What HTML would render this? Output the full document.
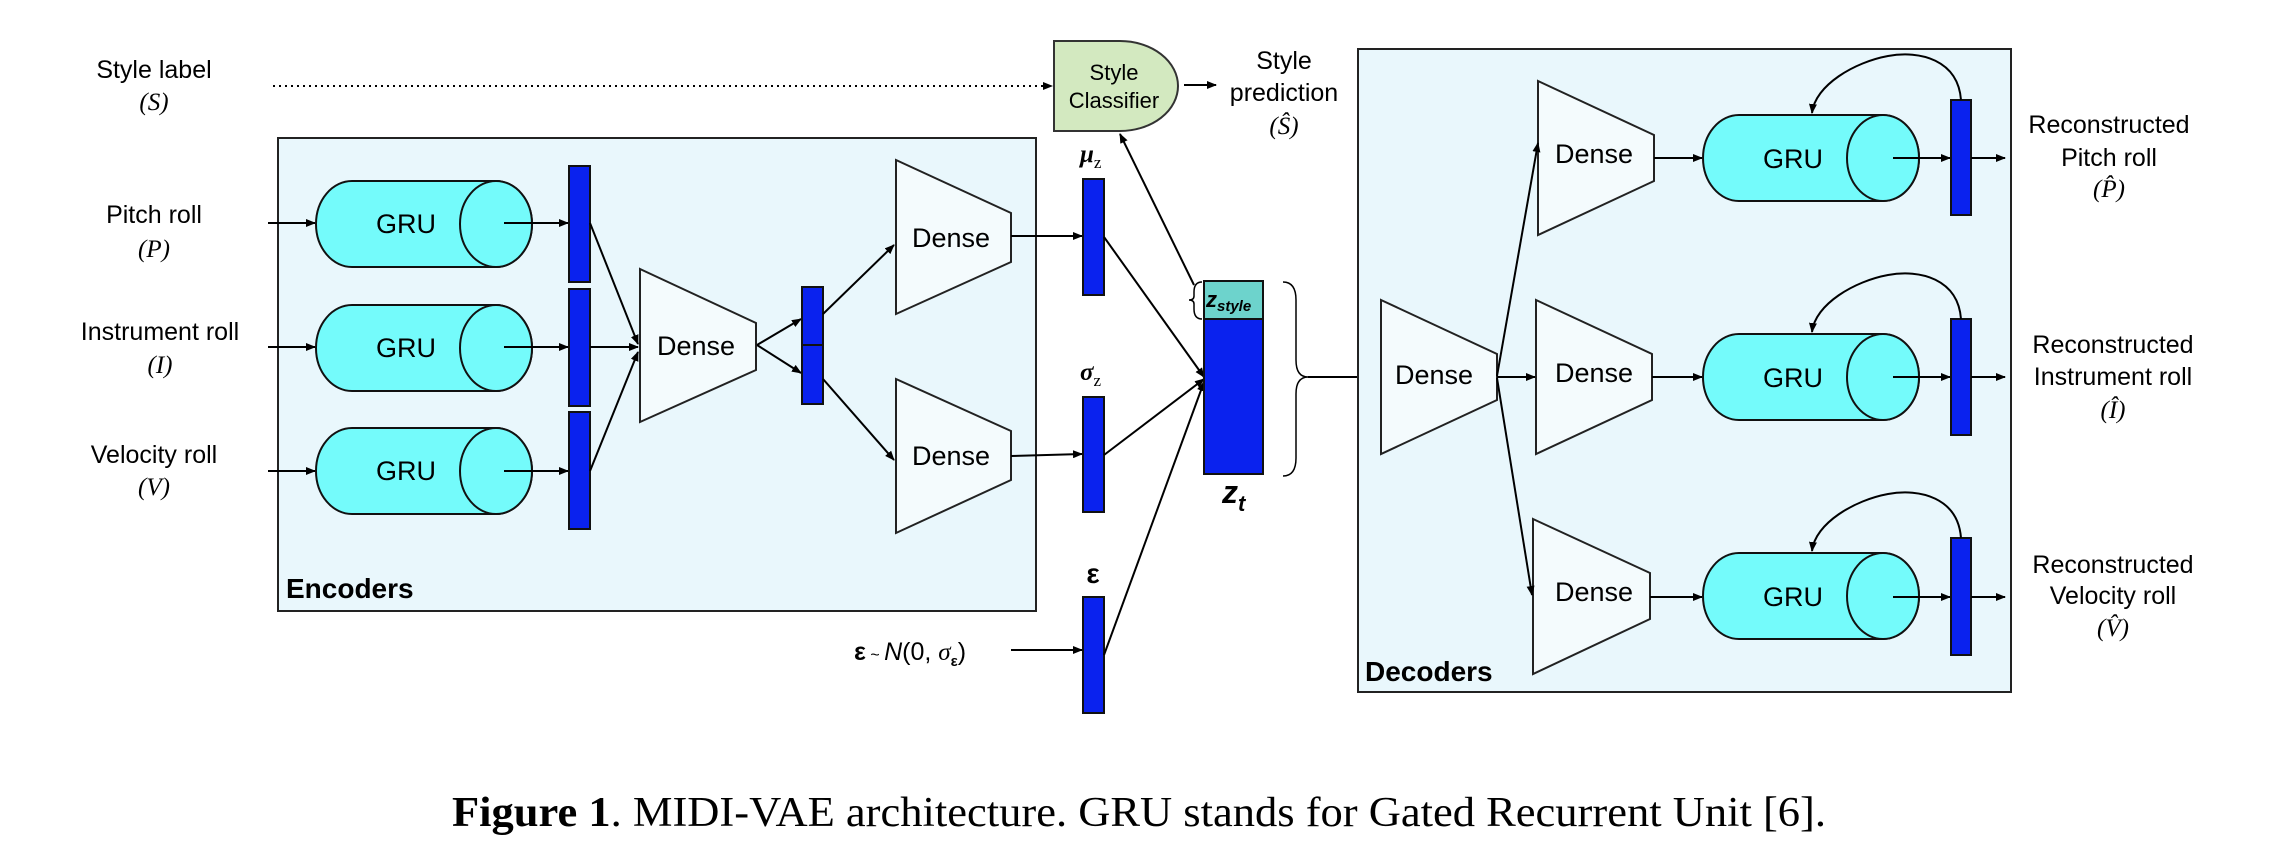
<!DOCTYPE html>
<html><head><meta charset="utf-8"><style>
html,body{margin:0;padding:0;background:#fff;}
svg{display:block;}
text{font-family:"Liberation Sans",sans-serif;fill:#000;}
.s{font-family:"Liberation Serif",serif;font-style:italic;}
.cap{font-family:"Liberation Serif",serif;}
</style></head><body>
<svg width="2278" height="844" viewBox="0 0 2278 844" xmlns="http://www.w3.org/2000/svg">
<defs>
<marker id="a" markerWidth="10" markerHeight="8" refX="9" refY="4" orient="auto" markerUnits="userSpaceOnUse">
<path d="M0,0 L10,4 L0,8 Z" fill="#000"/></marker>
</defs>

<!-- Style label -->
<text x="154" y="78" font-size="25" text-anchor="middle">Style label</text>
<text x="154" y="110" font-size="25" text-anchor="middle" class="s">(S)</text>
<line x1="273" y1="86" x2="1052" y2="86" stroke="#000" stroke-width="2" stroke-dasharray="2,4" marker-end="url(#a)"/>

<!-- Style classifier -->
<path d="M1054 41 L1120 41 A58 45 0 0 1 1120 131 L1054 131 Z" fill="#d3e9c0" stroke="#333" stroke-width="2"/>
<text x="1114" y="80" font-size="22" text-anchor="middle">Style</text>
<text x="1114" y="108" font-size="22" text-anchor="middle">Classifier</text>
<line x1="1184" y1="85" x2="1216" y2="85" stroke="#000" stroke-width="2" marker-end="url(#a)"/>
<text x="1284" y="69" font-size="25" text-anchor="middle">Style</text>
<text x="1284" y="101" font-size="25" text-anchor="middle">prediction</text>
<text x="1284" y="134" font-size="25" text-anchor="middle" class="s">(Ŝ)</text>

<!-- Encoders box -->
<rect x="278" y="138" width="758" height="473" fill="#e9f7fc" stroke="#222" stroke-width="2"/>
<text x="286" y="598" font-size="28" font-weight="bold">Encoders</text>

<!-- input labels -->
<text x="154" y="223" font-size="25" text-anchor="middle">Pitch roll</text>
<text x="154" y="257" font-size="25" text-anchor="middle" class="s">(P)</text>
<text x="160" y="340" font-size="25" text-anchor="middle">Instrument roll</text>
<text x="160" y="373" font-size="25" text-anchor="middle" class="s">(I)</text>
<text x="154" y="463" font-size="25" text-anchor="middle">Velocity roll</text>
<text x="154" y="495" font-size="25" text-anchor="middle" class="s">(V)</text>

<g stroke="#000" stroke-width="2" fill="none">
<line x1="268" y1="223" x2="315" y2="223" marker-end="url(#a)"/>
<line x1="268" y1="347" x2="315" y2="347" marker-end="url(#a)"/>
<line x1="268" y1="471" x2="315" y2="471" marker-end="url(#a)"/>
</g>

<!-- encoder GRUs -->
<g stroke="#111" stroke-width="2">
<path d="M352 181 L496 181 A36 43 0 0 1 496 267 L352 267 A36 43 0 0 1 352 181 Z" fill="#74fbfb"/>
<ellipse cx="496" cy="224" rx="36" ry="43" fill="#74fbfb"/>
<path d="M352 305 L496 305 A36 43 0 0 1 496 391 L352 391 A36 43 0 0 1 352 305 Z" fill="#74fbfb"/>
<ellipse cx="496" cy="348" rx="36" ry="43" fill="#74fbfb"/>
<path d="M352 428 L496 428 A36 43 0 0 1 496 514 L352 514 A36 43 0 0 1 352 428 Z" fill="#74fbfb"/>
<ellipse cx="496" cy="471" rx="36" ry="43" fill="#74fbfb"/>
</g>
<text x="406" y="233" font-size="27" text-anchor="middle">GRU</text>
<text x="406" y="357" font-size="27" text-anchor="middle">GRU</text>
<text x="406" y="480" font-size="27" text-anchor="middle">GRU</text>
<g stroke="#000" stroke-width="2">
<line x1="504" y1="223" x2="568" y2="223" marker-end="url(#a)"/>
<line x1="504" y1="347" x2="568" y2="347" marker-end="url(#a)"/>
<line x1="504" y1="471" x2="568" y2="471" marker-end="url(#a)"/>
</g>
<g fill="#0a22ee" stroke="#111" stroke-width="2">
<rect x="569" y="166" width="21" height="116"/>
<rect x="569" y="289" width="21" height="117"/>
<rect x="569" y="412" width="21" height="117"/>
</g>
<g stroke="#000" stroke-width="2">
<line x1="590" y1="223" x2="638" y2="344" marker-end="url(#a)"/>
<line x1="590" y1="347" x2="638" y2="347" marker-end="url(#a)"/>
<line x1="590" y1="471" x2="638" y2="352" marker-end="url(#a)"/>
</g>

<!-- Dense shapes -->
<g stroke="#222" stroke-width="2">
<path d="M640 269 L756 323 L756 370 L640 422 Z" fill="#f4fbfd"/>
<path d="M896 160 L1011 213 L1011 262 L896 314 Z" fill="#f4fbfd"/>
<path d="M896 379 L1011 431 L1011 480 L896 533 Z" fill="#f4fbfd"/>
</g>
<text x="696" y="355" font-size="27" text-anchor="middle">Dense</text>
<text x="951" y="247" font-size="27" text-anchor="middle">Dense</text>
<text x="951" y="465" font-size="27" text-anchor="middle">Dense</text>

<g stroke="#000" stroke-width="2">
<line x1="757" y1="345" x2="801" y2="319" marker-end="url(#a)"/>
<line x1="757" y1="345" x2="801" y2="373" marker-end="url(#a)"/>
</g>
<rect x="802" y="287" width="21" height="117" fill="#0a22ee" stroke="#111" stroke-width="2"/>
<line x1="802" y1="345" x2="823" y2="345" stroke="#111" stroke-width="2"/>
<g stroke="#000" stroke-width="2">
<line x1="823" y1="314" x2="894" y2="245" marker-end="url(#a)"/>
<line x1="823" y1="379" x2="894" y2="460" marker-end="url(#a)"/>
<line x1="1011" y1="236" x2="1082" y2="236" marker-end="url(#a)"/>
<line x1="1011" y1="456" x2="1082" y2="454" marker-end="url(#a)"/>
</g>

<!-- mu sigma eps bars -->
<g fill="#0a22ee" stroke="#111" stroke-width="2">
<rect x="1083" y="179" width="21" height="116"/>
<rect x="1083" y="397" width="21" height="115"/>
<rect x="1083" y="597" width="21" height="116"/>
</g>
<text x="1080" y="162" font-size="25" font-weight="bold" class="s">μ<tspan font-size="17" font-weight="normal" font-style="normal" dy="6">z</tspan></text>
<text x="1080" y="380" font-size="25" font-weight="bold" class="s">σ<tspan font-size="17" font-weight="normal" font-style="normal" dy="6">z</tspan></text>
<text x="1093" y="583" font-size="28" font-weight="bold" text-anchor="middle">ε</text>
<text x="854" y="660" font-size="25"><tspan font-weight="bold">ε</tspan><tspan font-size="16"> ~ </tspan><tspan font-style="italic">N</tspan>(0, <tspan class="s">σ</tspan><tspan font-size="15" font-weight="bold" dy="6">ε</tspan><tspan dy="-6">)</tspan></text>
<line x1="1011" y1="650" x2="1082" y2="650" stroke="#000" stroke-width="2" marker-end="url(#a)"/>

<g stroke="#000" stroke-width="2">
<line x1="1104" y1="237" x2="1204" y2="377" marker-end="url(#a)"/>
<line x1="1104" y1="455" x2="1204" y2="379" marker-end="url(#a)"/>
<line x1="1104" y1="655" x2="1204" y2="382" marker-end="url(#a)"/>
<line x1="1194" y1="285" x2="1120" y2="134" marker-end="url(#a)"/>
</g>

<!-- z_t -->
<rect x="1204" y="281" width="59" height="193" fill="#0a22ee" stroke="#111" stroke-width="2"/>
<rect x="1204" y="281" width="59" height="38" fill="#6dd3cc" stroke="#111" stroke-width="2"/>
<text x="1206" y="307" font-size="22" font-weight="bold" font-style="italic">z<tspan font-size="15" dy="4">style</tspan></text>
<text x="1222" y="503" font-size="32" font-weight="bold" font-style="italic">z<tspan font-size="22" dy="8">t</tspan></text>
<path d="M1202 282 Q1194 282 1194 292 L1194 296 Q1194 300 1189 300 Q1194 300 1194 304 L1194 309 Q1194 319 1202 319" fill="none" stroke="#000" stroke-width="1.5"/>
<path d="M1283 282 Q1296 282 1296 300 L1296 360 Q1296 377 1308 377 Q1296 377 1296 394 L1296 458 Q1296 476 1283 476" fill="none" stroke="#000" stroke-width="1.5"/>
<line x1="1308" y1="377" x2="1380" y2="377" stroke="#000" stroke-width="2" marker-end="url(#a)"/>

<!-- Decoders box -->
<rect x="1358" y="49" width="653" height="643" fill="#e9f7fc" stroke="#222" stroke-width="2"/>
<text x="1365" y="681" font-size="28" font-weight="bold">Decoders</text>

<g stroke="#222" stroke-width="2">
<path d="M1381 300 L1497 354 L1497 400 L1381 454 Z" fill="#f4fbfd"/>
<path d="M1538 81 L1654 135 L1654 181 L1538 235 Z" fill="#f4fbfd"/>
<path d="M1536 300 L1652 354 L1652 400 L1536 454 Z" fill="#f4fbfd"/>
<path d="M1533 519 L1650 573 L1650 619 L1533 674 Z" fill="#f4fbfd"/>
</g>
<text x="1434" y="384" font-size="27" text-anchor="middle">Dense</text>
<text x="1594" y="163" font-size="27" text-anchor="middle">Dense</text>
<text x="1594" y="382" font-size="27" text-anchor="middle">Dense</text>
<text x="1594" y="601" font-size="27" text-anchor="middle">Dense</text>
<g stroke="#000" stroke-width="2">
<line x1="1497" y1="376" x2="1538" y2="143" marker-end="url(#a)"/>
<line x1="1497" y1="377" x2="1535" y2="377" marker-end="url(#a)"/>
<line x1="1497" y1="378" x2="1532" y2="595" marker-end="url(#a)"/>
<line x1="1654" y1="158" x2="1702" y2="158" marker-end="url(#a)"/>
<line x1="1652" y1="377" x2="1702" y2="377" marker-end="url(#a)"/>
<line x1="1650" y1="597" x2="1702" y2="597" marker-end="url(#a)"/>
</g>

<g stroke="#111" stroke-width="2">
<path d="M1739 115 L1883 115 A36 43 0 0 1 1883 201 L1739 201 A36 43 0 0 1 1739 115 Z" fill="#74fbfb"/>
<ellipse cx="1883" cy="158" rx="36" ry="43" fill="#74fbfb"/>
<path d="M1739 334 L1883 334 A36 43 0 0 1 1883 420 L1739 420 A36 43 0 0 1 1739 334 Z" fill="#74fbfb"/>
<ellipse cx="1883" cy="377" rx="36" ry="43" fill="#74fbfb"/>
<path d="M1739 553 L1883 553 A36 43 0 0 1 1883 639 L1739 639 A36 43 0 0 1 1739 553 Z" fill="#74fbfb"/>
<ellipse cx="1883" cy="596" rx="36" ry="43" fill="#74fbfb"/>
</g>
<text x="1793" y="168" font-size="27" text-anchor="middle">GRU</text>
<text x="1793" y="387" font-size="27" text-anchor="middle">GRU</text>
<text x="1793" y="606" font-size="27" text-anchor="middle">GRU</text>
<g stroke="#000" stroke-width="2">
<line x1="1893" y1="158" x2="1950" y2="158" marker-end="url(#a)"/>
<line x1="1893" y1="377" x2="1950" y2="377" marker-end="url(#a)"/>
<line x1="1893" y1="597" x2="1950" y2="597" marker-end="url(#a)"/>
</g>
<g fill="#0a22ee" stroke="#111" stroke-width="2">
<rect x="1951" y="100" width="20" height="115"/>
<rect x="1951" y="319" width="20" height="116"/>
<rect x="1951" y="538" width="20" height="117"/>
</g>
<g stroke="#000" stroke-width="2" fill="none">
<path d="M1961 100 C1958 60 1920 50 1888 56 C1855 62 1815 85 1812 113" marker-end="url(#a)"/>
<path d="M1961 319 C1958 279 1920 269 1888 275 C1855 281 1815 304 1812 332" marker-end="url(#a)"/>
<path d="M1961 538 C1958 498 1920 488 1888 494 C1855 500 1815 523 1812 551" marker-end="url(#a)"/>
<line x1="1971" y1="158" x2="2005" y2="158" marker-end="url(#a)"/>
<line x1="1971" y1="377" x2="2005" y2="377" marker-end="url(#a)"/>
<line x1="1971" y1="597" x2="2005" y2="597" marker-end="url(#a)"/>
</g>

<text x="2109" y="133" font-size="25" text-anchor="middle">Reconstructed</text>
<text x="2109" y="166" font-size="25" text-anchor="middle">Pitch roll</text>
<text x="2109" y="197" font-size="25" text-anchor="middle" class="s">(P̂)</text>
<text x="2113" y="353" font-size="25" text-anchor="middle">Reconstructed</text>
<text x="2113" y="385" font-size="25" text-anchor="middle">Instrument roll</text>
<text x="2113" y="418" font-size="25" text-anchor="middle" class="s">(Î)</text>
<text x="2113" y="573" font-size="25" text-anchor="middle">Reconstructed</text>
<text x="2113" y="604" font-size="25" text-anchor="middle">Velocity roll</text>
<text x="2113" y="636" font-size="25" text-anchor="middle" class="s">(V̂)</text>

<!-- caption -->
<text x="452" y="826" font-size="42" class="cap" textLength="1374" lengthAdjust="spacingAndGlyphs"><tspan font-weight="bold">Figure 1</tspan>.   MIDI-VAE architecture. GRU stands for Gated Recurrent Unit [6].</text>
</svg>
</body></html>
